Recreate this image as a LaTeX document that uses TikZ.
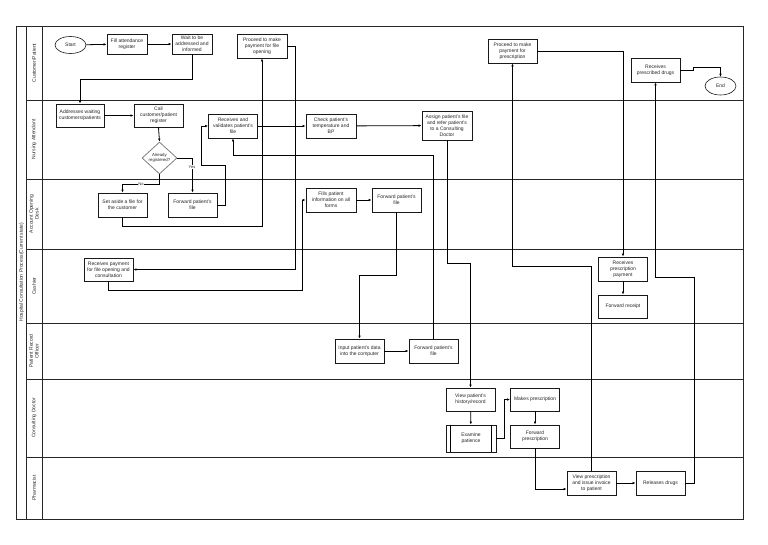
\documentclass[tikz,border=0pt]{standalone}
\usepackage{fontspec}
\setmainfont{Liberation Sans}
\usetikzlibrary{arrows.meta,shapes.geometric}
\begin{document}
\begin{tikzpicture}[x=1pt,y=-1pt,
  every node/.style={font=\fontsize{5}{5.9}\selectfont, text=black!85},
  box/.style={draw=black!90, line width=0.9pt, fill=white, align=center, inner sep=0.5pt, minimum width=49pt, minimum height=24pt},
  oval/.style={draw=black!90, line width=0.6pt, ellipse, fill=white, minimum width=31pt, minimum height=17pt, inner sep=0pt},
  dia/.style={draw=black!50, line width=0.8pt, diamond, fill=white, minimum width=35pt, minimum height=32pt, inner sep=0pt},
  arr/.style={line width=0.8pt, -{Latex[length=3pt,width=2.6pt]}},
  lane/.style={line width=0.8pt, draw=black!85},
  lanelabel/.style={rotate=90, align=center, font=\fontsize{5}{5.9}\selectfont},
  lbl/.style={fill=white, inner sep=0.3pt, font=\fontsize{4}{4.5}\selectfont}
]
\useasboundingbox (0,0) rectangle (768,544);
% frame and lanes
\draw[lane] (16,26) rectangle (743,519);
\draw[lane] (26,26) -- (26,519);
\draw[lane] (42,26) -- (42,519);
\foreach \yy in {100,179,249,323,379,457} \draw[lane] (26,\yy) -- (743,\yy);
\node[lanelabel] (title) at (21.5,272) {Hospital Consultation Process(Current state)};
\node[lanelabel] (l1) at (34,63) {Customer/Patient};
\node[lanelabel] (l2) at (34,139.5) {Nursing Attendant};
\node[lanelabel] (l3) at (34,214) {Account Opening\\Desk};
\node[lanelabel] (l4) at (34,286) {Cashier};
\node[lanelabel] (l5) at (34,351) {Patient Record\\Officer};
\node[lanelabel] (l6) at (34,418) {Consulting Doctor};
\node[lanelabel] (l7) at (34,488) {Pharmacist};

% Customer/Patient
\node[oval] (start) at (70.5,45) {Start};
\node[box, minimum width=40pt, minimum height=20pt] (fill) at (127,44) {Fill attendance\\register};
\node[box, minimum width=40pt, minimum height=20pt] (wait) at (192,44) {Wait to be\\addressed and\\informed};
\node[box, minimum width=50pt] (proc1) at (262,46) {Proceed to make\\payment for file\\opening};
\node[box] (procp) at (512.5,51) {Proceed to make\\payment for\\prescription};
\node[box] (recd) at (655.5,70) {Receives\\prescribed drugs};
\node[oval, minimum height=18pt] (end) at (720.5,86) {End};

% Nursing Attendant
\node[box, minimum width=48pt, minimum height=23pt] (addr) at (80,115.5) {Addresses waiting\\customers/patients};
\node[box, minimum height=23pt] (call) at (158.5,115.5) {Call\\customer/patient\\register};
\node[box] (recv) at (233,126) {Receives and\\validates patient's\\file};
\node[box, minimum width=50pt] (check) at (331,126) {Check patient's\\temperature and\\BP};
\node[box, minimum width=50pt, minimum height=29pt] (assign) at (447,125.5) {Assign patient's file\\and refer patient's\\to a Consulting\\Doctor};
\node[dia] (dia) at (159.5,158) {};
\node[font=\fontsize{4.3}{5}\selectfont, align=center] (diat) at (dia) {Already\\registered?};

% Account Opening Desk
\node[box] (setaside) at (122.5,205) {Set aside a file for\\the customer};
\node[box] (fwd1) at (192.5,205) {Forward patient's\\file};
\node[box, minimum width=50pt] (fills) at (331,200) {Fills patient\\information on all\\forms};
\node[box] (fwd2) at (396.5,200) {Forward patient's\\file};

% Cashier
\node[box, minimum height=23pt] (recvpay) at (108.5,269.5) {Receives payment\\for file opening and\\consultation};
\node[box] (recp) at (623,269) {Receives\\prescription\\payment};
\node[box, minimum height=23pt] (fwdr) at (623,306.5) {Forward receipt};

% Patient Record Officer
\node[box] (input) at (359.5,351) {Input patient's data\\into the computer};
\node[box] (fwd3) at (433.5,351) {Forward patient's\\file};

% Consulting Doctor
\node[box, minimum height=23pt] (view) at (470.5,399.5) {View patient's\\history/record};
\node[box, minimum width=50pt, minimum height=27pt] (exam) at (471,438.5) {Examine\\patience};
\draw[line width=0.9pt] ([xshift=5pt]exam.north west) -- ([xshift=5pt]exam.south west);
\draw[line width=0.9pt] ([xshift=-5pt]exam.north east) -- ([xshift=-5pt]exam.south east);
\node[box, minimum height=23pt] (makes) at (535,399.5) {Makes prescription};
\node[box, minimum height=23pt] (fwdp) at (535,436.5) {Forward\\prescription};

% Pharmacist
\node[box] (viewp) at (591.5,483) {View prescription\\and issue invoice\\to patient};
\node[box] (rel) at (660.5,483) {Releases drugs};

% connectors
\draw[arr] (start) -- (fill);
\draw[arr] (fill) -- (wait);
\draw[arr] (wait.south) -- ++(0,25) -| (addr.north);
\draw[arr] (addr) -- (call);
\draw[arr] (call.south) -- (dia.north);
\draw[arr] (dia.south) -- ++(0,10) -| (setaside.north);
\node[lbl] (no) at (141,184) {No};
\draw[arr] (dia.east) -| (fwd1.north);
\node[lbl] (yes) at (192,167) {Yes};
\draw[arr] (fwd1.east) -- ++(8,0) -- ++(0,-40) -- ++(-24,0) |- (recv.west);
\draw[arr] (setaside.south) -- ++(0,9) -| (proc1.south);
\draw[arr] (proc1.east) -- ++(8,0) |- (recvpay.east);
\draw[arr] (recvpay.south) |- (302,290) |- (fills.west);
\draw[arr] (fills) -- (fwd2);
\draw[arr] (fwd2.south) -- ++(0,63) -| (input.north);
\draw[arr] (input) -- (fwd3);
\draw[arr] (fwd3.north) -- ++(0,-183) -| (recv.south);
\draw[arr] (recv) -- (check);
\draw[arr] (check) -- (assign);
\draw[arr] (assign.south) -- ++(0,123) -| (view.north);
\draw[arr] (view) -- (exam);
\draw[arr] (exam.east) -- ++(8,0) |- (makes.west);
\draw[arr] (makes) -- (fwdp);
\draw[arr] (fwdp.south) |- ([yshift=-6pt]viewp.west);
\draw[arr] (viewp) -- (rel);
\draw[arr] (viewp.north) -- ++(0,-204) -| (procp.south);
\draw[arr] (procp.east) -| (recp.north);
\draw[arr] (recp) -- (fwdr);
\draw[arr] (rel.east) -- ++(9,0) -- ++(0,-206) -| (recd.south);
\draw[arr] (recd.east) -- ++(13,0) -- ++(0,-2.5) -| (end.north);
\end{tikzpicture}
\end{document}
